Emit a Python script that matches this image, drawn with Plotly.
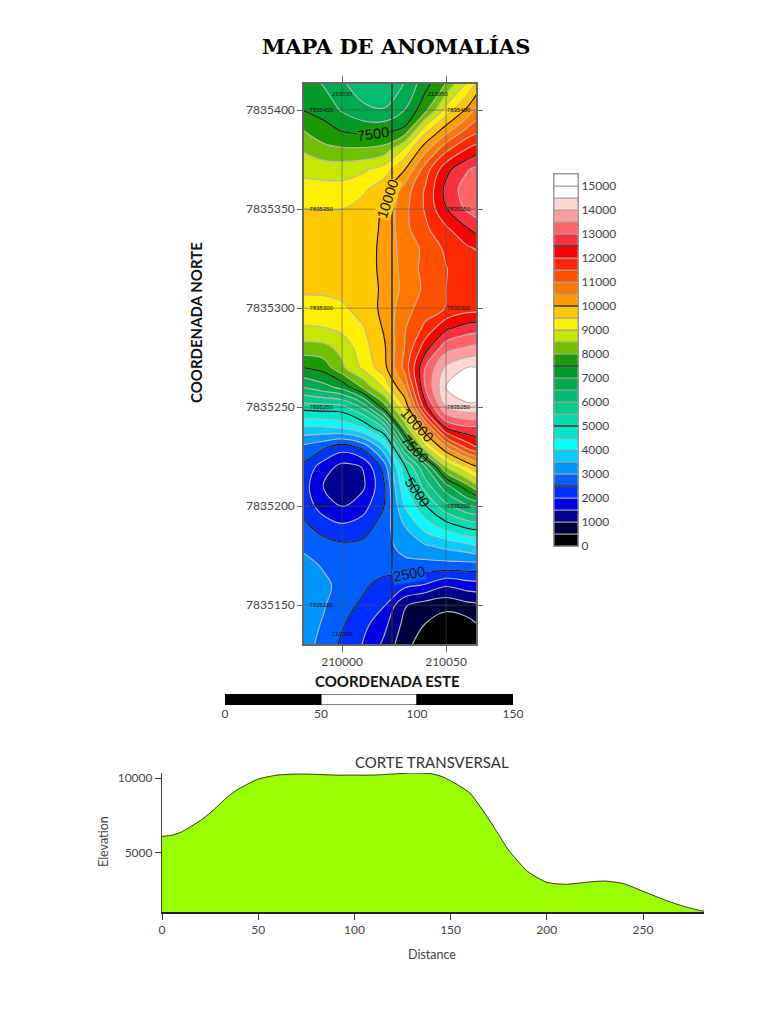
import plotly.graph_objects as go

W = 768
H = 1024

# anomaly grid, rows go from north to south
map_x = [209981, 209991, 210000, 210010, 210020, 210030, 210040, 210050, 210060, 210065]
map_y = [7835414, 7835400, 7835390, 7835380, 7835370, 7835360, 7835350, 7835340, 7835330,
         7835320, 7835310, 7835300, 7835290, 7835280, 7835270, 7835260, 7835250, 7835240,
         7835230, 7835220, 7835210, 7835200, 7835190, 7835180, 7835170, 7835160, 7835150,
         7835140, 7835130]
map_z = [
    [7200, 6950, 6550, 6250, 6250, 6500, 7300, 8000, 9000, 9550],
    [7500, 7300, 6950, 6600, 6520, 7000, 7850, 9200, 10100, 10700],
    [8000, 7700, 7450, 7350, 7350, 7600, 9300, 10250, 11100, 11350],
    [8450, 8150, 8080, 8080, 8200, 9100, 10350, 11400, 12050, 12300],
    [8850, 8800, 8780, 8900, 9230, 9970, 11250, 12350, 12950, 13150],
    [9200, 9170, 9170, 9400, 9800, 10700, 11550, 12650, 13250, 13350],
    [9500, 9500, 9500, 9700, 10050, 10850, 11550, 12480, 13080, 13250],
    [9700, 9700, 9750, 9850, 10050, 10850, 11400, 11900, 12450, 12700],
    [9750, 9750, 9800, 9880, 10060, 10750, 11100, 11600, 11900, 12040],
    [9750, 9750, 9800, 9880, 10060, 10700, 11150, 11480, 11800, 11800],
    [9600, 9600, 9700, 9880, 10040, 10650, 11100, 11500, 11750, 11800],
    [9300, 9330, 9400, 9750, 10100, 10800, 11250, 11520, 11780, 11800],
    [8950, 8980, 9150, 9450, 10050, 10950, 11620, 12400, 12720, 12800],
    [8300, 8350, 8650, 9300, 9900, 11000, 12300, 13300, 13550, 13650],
    [7500, 7700, 8400, 9100, 9800, 11150, 13000, 14100, 14500, 14500],
    [6500, 6800, 7150, 8050, 9050, 10500, 13000, 14500, 14950, 14900],
    [5200, 5250, 5300, 6100, 7700, 9500, 12300, 14000, 14350, 14350],
    [3950, 4000, 4150, 4550, 5600, 8200, 10500, 12600, 12950, 12950],
    [2900, 2620, 2250, 2650, 3800, 6500, 8900, 10500, 11700, 12050],
    [2420, 1750, 1350, 1520, 2700, 4900, 6500, 8550, 9550, 10000],
    [2250, 1480, 1100, 1400, 2400, 4400, 5700, 6800, 7800, 8400],
    [2350, 1750, 1480, 1800, 2480, 4000, 4950, 5850, 6400, 6550],
    [2620, 2280, 2080, 2230, 2750, 3500, 4250, 4750, 5150, 5250],
    [2900, 2700, 2600, 2650, 2750, 3250, 3450, 3650, 3850, 4000],
    [3200, 2950, 2750, 2700, 2750, 2800, 2800, 2800, 2800, 2800],
    [3350, 3120, 2850, 2600, 2300, 2150, 1950, 1550, 1750, 1800],
    [3300, 3050, 2700, 2400, 2050, 1050, 750, 650, 850, 900],
    [3250, 2950, 2550, 2150, 1650, 850, 480, 200, 250, 480],
    [3200, 2850, 2400, 1980, 1400, 650, 250, 50, 80, 150],
]

map_x_ticks = [210000, 210050]
map_y_ticks = [7835150, 7835200, 7835250, 7835300, 7835350, 7835400]
section_line_x = [210024, 210024]
section_line_y = [7835130, 7835414]

# small station labels printed inside the map
station_left_x = [209990] * 6
station_right_x = [210056] * 6
station_labels = ['7835150', '7835200', '7835250', '7835300', '7835350', '7835400']
east_label_x = [210000, 210046, 210000]
east_label_y = [7835408, 7835408, 7835135]
east_labels = ['210030', '210050', '210000']

# one colour for each 500 wide band, from 0 upwards
band_colors = ['#000000', '#00003c', '#00008c', '#0000e0', '#0030ff', '#0060ff', '#0096ff',
               '#00ccff', '#00ffff', '#00e6c8', '#00dcaa', '#00cc88', '#00bb70', '#00aa50',
               '#009a28', '#1a9a00', '#70c000', '#c4e600', '#fff000', '#ffc800', '#ff9c00',
               '#ff7800', '#ff5000', '#ff2800', '#ff0000', '#ff3040', '#ff6468', '#ff9ca0',
               '#ffd4d4', '#ffffff', '#ffffff']
band_start = [0, 500, 1000, 1500, 2000, 2500, 3000, 3500, 4000, 4500, 5000, 5500, 6000, 6500,
              7000, 7500, 8000, 8500, 9000, 9500, 10000, 10500, 11000, 11500, 12000, 12500,
              13000, 13500, 14000, 14500, 15000]
band_size = [500] * 31
legend_ticks = [0, 1000, 2000, 3000, 4000, 5000, 6000, 7000, 8000, 9000, 10000, 11000, 12000,
                13000, 14000, 15000]
black_levels = [2500, 5000, 7500, 10000, 12500]

# contour labels sitting on the black lines
label_x = [210015, 210022, 210036, 210035, 210036, 210032]
label_y = [7835388, 7835355, 7835241, 7835229, 7835207, 7835166]
label_text = ['7500', '10000', '10000', '7500', '5000', '2500']
label_angle = [-8, -72, 47, 47, 55, -10]
label_bg = ['#1a9a00', '#ffc800', None, None, None, '#0060ff']

scale_start = [0, 50, 100]
scale_width = [50, 50, 50]
scale_colors = ['#000000', '#ffffff', '#000000']
scale_ticks = [0, 50, 100, 150]

distance = [0, 5, 10, 20, 25, 30, 35, 40, 50, 60, 70, 80, 90, 100, 110, 120, 130, 140, 145,
            150, 160, 170, 175, 180, 190, 200, 210, 220, 230, 240, 250, 260, 270, 280, 282]
elevation = [6076, 6150, 6368, 7150, 7650, 8250, 8830, 9280, 9930, 10200, 10270, 10250, 10200,
             10200, 10200, 10270, 10340, 10290, 10120, 9820, 8990, 7200, 6190, 5180, 3720,
             2980, 2850, 2980, 3070, 2890, 2380, 1860, 1410, 1075, 1030]


def px_x(p):
    return p / W


def px_y(p):
    return 1 - p / H


# plotly takes each band's colour from the middle of the band, half a step up the scale
scale_colors_all = band_colors + [band_colors[-1]]
n = len(scale_colors_all)
colorscale = [[0, scale_colors_all[0]]]
for i, c in enumerate(scale_colors_all):
    colorscale.append([(i + 0.5) / n, c])
    colorscale.append([min(i + 1.5, n) / n, c])

fig = go.Figure()

fig.add_trace(go.Contour(
    x=map_x, y=map_y, z=map_z,
    autocontour=False,
    contours=dict(start=0, end=15500, size=500, coloring='fill'),
    colorscale=colorscale,
    line=dict(color='#b8b8b8', width=1.1, smoothing=1),
    showscale=False,
    hoverinfo='skip',
    xaxis='x', yaxis='y',
))
fig.add_trace(go.Contour(
    x=map_x, y=map_y, z=map_z,
    autocontour=False,
    contours=dict(start=2500, end=15000, size=2500, coloring='none'),
    line=dict(color='#111111', width=1.1, smoothing=1),
    showscale=False,
    hoverinfo='skip',
    xaxis='x', yaxis='y',
))

# grid lines have to go over the filled contours
for t in map_x_ticks:
    fig.add_shape(type='line', x0=t, x1=t, y0=map_y[-1], y1=map_y[0], xref='x', yref='y',
                  line=dict(color='rgba(80,80,80,0.55)', width=1), layer='above')
for t in map_y_ticks:
    fig.add_shape(type='line', x0=map_x[0], x1=map_x[-1], y0=t, y1=t, xref='x', yref='y',
                  line=dict(color='rgba(80,80,80,0.55)', width=1), layer='above')

fig.add_trace(go.Scatter(x=section_line_x, y=section_line_y, mode='lines',
                         line=dict(color='#2a2a2a', width=1.5), hoverinfo='skip',
                         xaxis='x', yaxis='y'))
fig.add_trace(go.Scatter(x=station_left_x + station_right_x + east_label_x,
                         y=map_y_ticks + map_y_ticks + east_label_y,
                         text=station_labels + station_labels + east_labels,
                         mode='text',
                         textfont=dict(family='Liberation Sans', size=6, color='#111111'),
                         hoverinfo='skip', xaxis='x', yaxis='y'))

for x, y, txt, ang, bg in zip(label_x, label_y, label_text, label_angle, label_bg):
    fig.add_annotation(x=x, y=y, xref='x', yref='y', text=txt, textangle=ang, showarrow=False,
                       bgcolor=bg, borderpad=0,
                       font=dict(family='Liberation Sans', size=14.5, color='#111111'))

# colour legend drawn as stacked bars so the ticks line up with the band edges
fig.add_trace(go.Bar(x=[0] * len(band_start), y=band_size, base=band_start, width=1,
                     marker=dict(color=band_colors, line=dict(color='#a0a0a0', width=1)),
                     hoverinfo='skip', xaxis='x4', yaxis='y4'))
level_x = []
level_y = []
for level in black_levels:
    level_x += [-0.5, 0.5, None]
    level_y += [level, level, None]
fig.add_trace(go.Scatter(x=level_x, y=level_y, mode='lines',
                         line=dict(color='#222222', width=1.2), hoverinfo='skip',
                         xaxis='x4', yaxis='y4'))

# scale bar
fig.add_trace(go.Bar(x=scale_width, y=['s', 's', 's'], base=scale_start, orientation='h',
                     width=1, marker=dict(color=scale_colors, line=dict(color='#000000', width=1)),
                     hoverinfo='skip', xaxis='x2', yaxis='y2'))

# cross section
fig.add_trace(go.Scatter(x=distance, y=elevation, mode='lines', fill='tozeroy',
                         fillcolor='#99ff00',
                         line=dict(color='#333333', width=1, shape='spline', smoothing=0.6),
                         hoverinfo='skip', xaxis='x3', yaxis='y3'))


def page_text(x, y, text, font, angle=0):
    return dict(x=px_x(x), y=px_y(y), xref='paper', yref='paper', showarrow=False,
                xanchor='center', yanchor='middle', text=text, font=font, textangle=angle)


tick_font = dict(family='Lato', size=12, color='#444444')
bold_font = dict(family='Lato', size=15, color='#111111')
small_font = dict(family='Lato', size=12.5, color='#444444')
fig.update_layout(
    width=W, height=H,
    margin=dict(l=0, r=0, t=0, b=0, autoexpand=False),
    paper_bgcolor='white', plot_bgcolor='white',
    showlegend=False,
    xaxis=dict(domain=[px_x(304), px_x(476)], range=[209981.7, 210064.4], tickvals=map_x_ticks,
               tickformat='d', ticks='outside', ticklen=6, tickcolor='#666666', showgrid=False,
               zeroline=False, showline=True, linecolor='#666666', linewidth=1.5, mirror='ticks',
               tickfont=tick_font, anchor='y'),
    yaxis=dict(domain=[px_y(644), px_y(84)], range=[7835130.4, 7835413.2], tickvals=map_y_ticks,
               tickformat='d', ticks='outside', ticklen=5, tickcolor='#666666', showgrid=False,
               zeroline=False, showline=True, linecolor='#666666', linewidth=1.5, mirror='ticks',
               tickfont=tick_font, anchor='x'),
    xaxis2=dict(domain=[px_x(225), px_x(513)], range=[0, 150], tickvals=scale_ticks, ticks='',
                showgrid=False, zeroline=False, showline=False, tickfont=tick_font, anchor='y2'),
    yaxis2=dict(domain=[px_y(705), px_y(694)], showticklabels=False, ticks='', showgrid=False,
                zeroline=False, showline=False, anchor='x2'),
    xaxis3=dict(domain=[px_x(162), px_x(704)], range=[0, 281.7],
                tickvals=[0, 50, 100, 150, 200, 250], ticks='outside', ticklen=6,
                tickcolor='#333333', showgrid=False, zeroline=False, showline=True,
                linecolor='#222222', linewidth=1.5, tickfont=tick_font, anchor='y3'),
    yaxis3=dict(domain=[px_y(912), px_y(773)], range=[985, 10340], tickvals=[5000, 10000],
                tickformat='d', ticks='outside', ticklen=6, tickcolor='#333333', showgrid=False,
                zeroline=False, showline=True, linecolor='#444444', linewidth=1.2,
                tickfont=tick_font, anchor='x3'),
    xaxis4=dict(domain=[px_x(554), px_x(578)], range=[-0.5, 0.5], showticklabels=False, ticks='',
                showgrid=False, zeroline=False, showline=True, linecolor='#999999', linewidth=1,
                mirror=True, anchor='y4'),
    yaxis4=dict(domain=[px_y(546), px_y(174)], range=[0, 15500], tickvals=legend_ticks,
                tickformat='d', side='right', ticks='', showgrid=False, zeroline=False,
                showline=True, linecolor='#999999', linewidth=1, mirror=True,
                tickfont=tick_font, anchor='x4'),
    annotations=list(fig.layout.annotations) + [
        page_text(396, 46, '<b>MAPA DE ANOMALÍAS</b>',
                  dict(family='DejaVu Serif', size=21, color='#000000')),
        page_text(196, 323, '<b>COORDENADA NORTE</b>', bold_font, -90),
        page_text(387, 681, '<b>COORDENADA ESTE</b>', bold_font),
        page_text(432, 762, 'CORTE TRANSVERSAL',
                  dict(family='Lato', size=15, color='#333333')),
        page_text(103, 842, 'Elevation', small_font, -90),
        page_text(432, 954, 'Distance', small_font),
    ],
)

fig.write_html("out.html", config=dict(displayModeBar=False),
               post_script="document.body.style.margin='0';")
